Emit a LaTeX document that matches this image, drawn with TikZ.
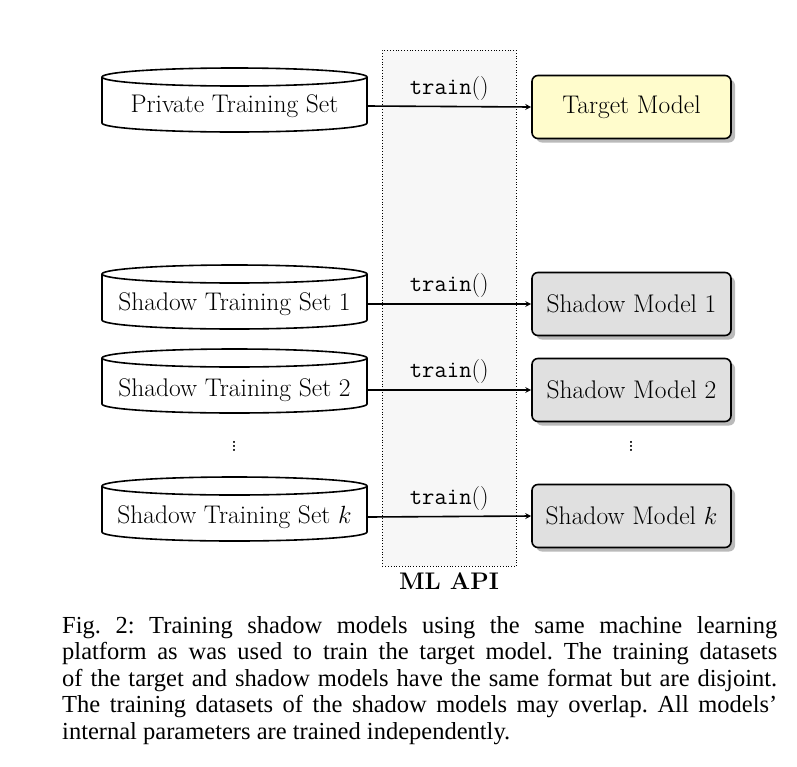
\documentclass[tikz,border=0pt]{standalone}
\usepackage{fontspec}
\newfontfamily\capfont{Liberation Serif}
\usetikzlibrary{shadows}
\begin{document}
\begin{tikzpicture}[x=1pt,y=-1pt,
  lbl/.style={font=\fontsize{25.5}{29}\selectfont},
  model/.style={draw,line width=1.6pt,rounded corners=6pt,minimum width=199pt,minimum height=63pt,
     drop shadow={shadow xshift=4pt,shadow yshift=-4pt,fill=black!45,opacity=0.6},lbl},
  arr/.style={->,line width=1.6pt,>=stealth},
  tr/.style={font=\fontsize{24}{28}\selectfont}]
\useasboundingbox (0,0) rectangle (797,766);
\node[draw,dotted,line width=0.8pt,fill=black!3,minimum width=134pt,minimum height=516pt,anchor=north west] (api) at (382,50) {};
\node[font=\bfseries\fontsize{24}{28}\selectfont] (apil) at (449,581) {ML API};
% cylinders
\newcommand\cyl[4]{% name, center y, top y, text
  \fill[white] (102,#3) -- (102,#3+46) arc[start angle=180,end angle=0,x radius=132.5,y radius=9] -- (367,#3) -- cycle;
  \draw[line width=1.6pt] (102,#3) -- (102,#3+46) arc[start angle=180,end angle=0,x radius=132.5,y radius=9] -- (367,#3);
  \draw[line width=1.6pt,fill=white] (234.5,#3) ellipse[x radius=132.5,y radius=9];
  \node[lbl,minimum width=265pt,inner sep=0pt] (#1) at (234.5,#2) {#4};
}
\cyl{p}{106}{77}{Private Training Set}
\cyl{s1}{304}{274}{Shadow Training Set 1}
\cyl{s2}{390}{358}{Shadow Training Set 2}
\cyl{sk}{517}{486}{Shadow Training Set $k$}
\node[model,fill=yellow!20] (t) at (631.5,107) {Target Model};
\node[model,fill=black!12] (m1) at (631.5,304) {Shadow Model 1};
\node[model,fill=black!12] (m2) at (631.5,390) {Shadow Model 2};
\node[model,fill=black!12] (mk) at (631.5,516) {Shadow Model $k$};
\foreach \a/\b in {p/t,s1/m1,s2/m2,sk/mk}
  \draw[arr] (\a.east) -- node[above=2pt,tr]{\texttt{train}()} (\b.west);
\node[font=\fontsize{26}{30}\selectfont] (d1) at (234,443) {$\vdots$};
\node[font=\fontsize{26}{30}\selectfont] (d2) at (631,443) {$\vdots$};
\node[anchor=north west,inner sep=0pt,text width=715pt,align=justify,font=\capfont\frenchspacing\fontsize{24.5}{26.5}\selectfont] (cap) at (62,616) {Fig. 2: Training shadow models using the same machine learning\linebreak platform as was used to train the target model. The training datasets\linebreak of the target and shadow models have the same format but are disjoint.\linebreak The training datasets of the shadow models may overlap. All models’\linebreak internal parameters are trained independently.};
\end{tikzpicture}
\end{document}
